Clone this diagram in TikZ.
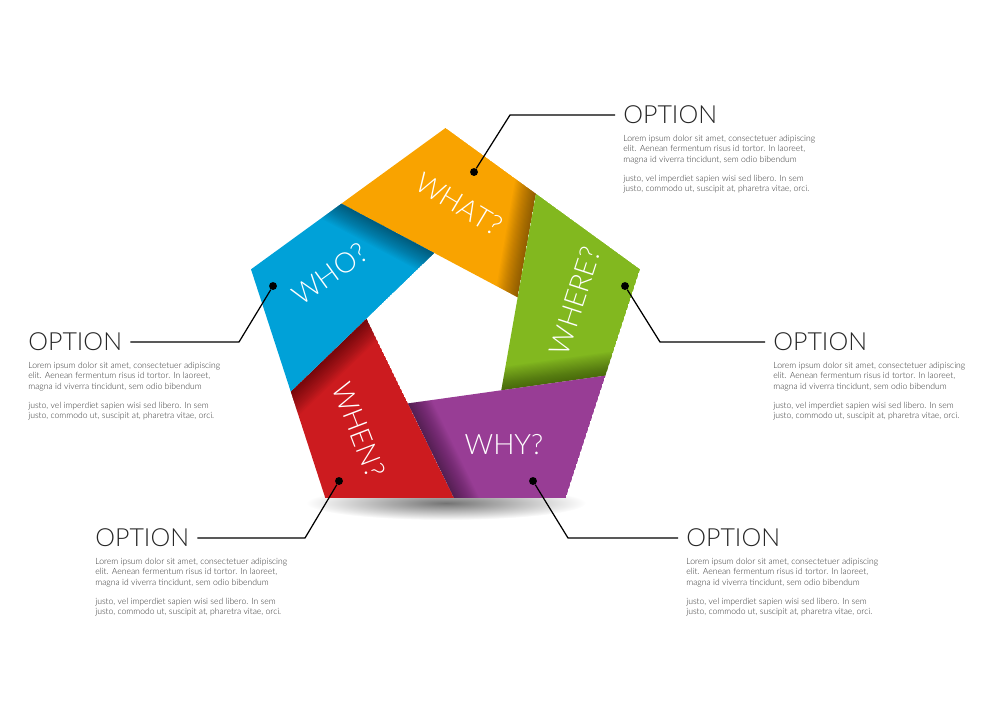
\documentclass[tikz,border=0pt]{standalone}
\usepackage{fontspec}
\setmainfont{Lato}[UprightFont=* Light]
\usetikzlibrary{positioning, calc}
\definecolor{cWhat}{HTML}{F9A300}
\definecolor{cWhere}{HTML}{82B81F}
\definecolor{cWhy}{HTML}{983D95}
\definecolor{cWhen}{HTML}{CC1B1F}
\definecolor{cWho}{HTML}{00A1D8}
\newcommand{\loremtext}{Lorem ipsum dolor sit amet, consectetuer adipiscing\\
elit. Aenean fermentum risus id tortor. In laoreet,\\
magna id viverra tincidunt, sem odio bibendum\\[5.2pt]
justo, vel imperdiet sapien wisi sed libero. In sem\\
justo, commodo ut, suscipit at, pharetra vitae, orci.}
\tikzset{
  heading/.style={inner sep=0pt, font=\fontsize{14.2}{15}\selectfont, text=black!85},
  body/.style={inner sep=0pt, align=left, font=\fontsize{4.9}{5.85}\selectfont, text=black!80},
  qlabel/.style={inner sep=0pt, text=white, font=\fontsize{16}{17}\selectfont},
  pin/.style={circle, fill=black, inner sep=0pt, minimum size=4.5pt},
  leader/.style={line width=0.7pt, shorten >=4.5pt},
}
\begin{document}
\begin{tikzpicture}[x=0.2mm, y=-0.2mm]
  \useasboundingbox (0,0) rectangle (1000,725);

  % pentagon corners, cut points and inner corners
  \foreach \k in {0,...,4}
    \coordinate (V\k) at ($(445.5,332.5)+({-90+72*\k}:204.5)$);
  \foreach \prev/\k in {4/0,0/1,1/2,2/3,3/4} {
    \coordinate (S\k) at ($(V\prev)!0.465!(V\k)$);
    \coordinate (D\k) at ($(S\k)!1!-64:(V\k)$);
  }
  \foreach \k/\n in {0/1,1/2,2/3,3/4,4/0}
    \coordinate (I\k) at (intersection cs: first line={(S\k)--(D\k)}, second line={(S\n)--(D\n)});

  \shade[inner color=black!55, outer color=white] (446,503) ellipse [x radius=140, y radius=17];

  % bands with a shadow under the next one
  \foreach \k/\n/\c in {0/1/cWhat,1/2/cWhere,2/3/cWhy,3/4/cWhen,4/0/cWho} {
    \coordinate (eA) at ($(S\n)!-0.3!(I\k)$);
    \coordinate (eB) at ($(I\k)!-0.3!(S\n)$);
    \begin{scope}
      \clip (S\k) -- (V\k) -- (S\n) -- (I\k) -- cycle;
      \fill[\c] (S\k) -- (V\k) -- (S\n) -- (I\k) -- cycle;
      \foreach \i in {1,...,20}
        \fill[black, opacity=0.024] (eA) -- (eB) -- ($(eB)!\i*0.65pt!90:(eA)$) -- ($(eA)!\i*0.65pt!-90:(eB)$) -- cycle;
    \end{scope}
  }

  \node[qlabel, rotate=-31] (what) at (459,204) {WHAT?};
  \node[qlabel, rotate=36] (who) at (330,274) {WHO?};
  \node[qlabel, rotate=72] (where) at (575,301) {WHERE?};
  \node[qlabel, rotate=-69] (when) at (359,430) {WHEN?};
  \node[qlabel] (why) at (504,445) {WHY?};

  \node[heading, anchor=west] (optWhat) at (623,115) {OPTION};
  \node[body, below right=6pt and 0pt of optWhat.south west] (txtWhat) {\loremtext};
  \node[heading, anchor=west] (optWho) at (28,342) {OPTION};
  \node[body, below right=6pt and 0pt of optWho.south west] (txtWho) {\loremtext};
  \node[heading, anchor=west] (optWhere) at (773,342) {OPTION};
  \node[body, below right=6pt and 0pt of optWhere.south west] (txtWhere) {\loremtext};
  \node[heading, anchor=west] (optWhen) at (95,538) {OPTION};
  \node[body, below right=6pt and 0pt of optWhen.south west] (txtWhen) {\loremtext};
  \node[heading, anchor=west] (optWhy) at (686,538) {OPTION};
  \node[body, below right=6pt and 0pt of optWhy.south west] (txtWhy) {\loremtext};

  \coordinate (bendWhat) at (510,115);
  \coordinate (bendWho) at (239,342);
  \coordinate (bendWhere) at (660,342);
  \coordinate (bendWhen) at (305,538);
  \coordinate (bendWhy) at (568,538);

  \node[pin] (dotWhat) at (474,172) {};
  \node[pin] (dotWho) at (273,286) {};
  \node[pin] (dotWhere) at (625,286) {};
  \node[pin] (dotWhen) at (339,481) {};
  \node[pin] (dotWhy) at (533,481) {};

  \draw[leader] (dotWhat) -- (bendWhat) -- (optWhat.west);
  \draw[leader] (dotWho) -- (bendWho) -- (optWho.east);
  \draw[leader] (dotWhere) -- (bendWhere) -- (optWhere.west);
  \draw[leader] (dotWhen) -- (bendWhen) -- (optWhen.east);
  \draw[leader] (dotWhy) -- (bendWhy) -- (optWhy.west);
\end{tikzpicture}
\end{document}
